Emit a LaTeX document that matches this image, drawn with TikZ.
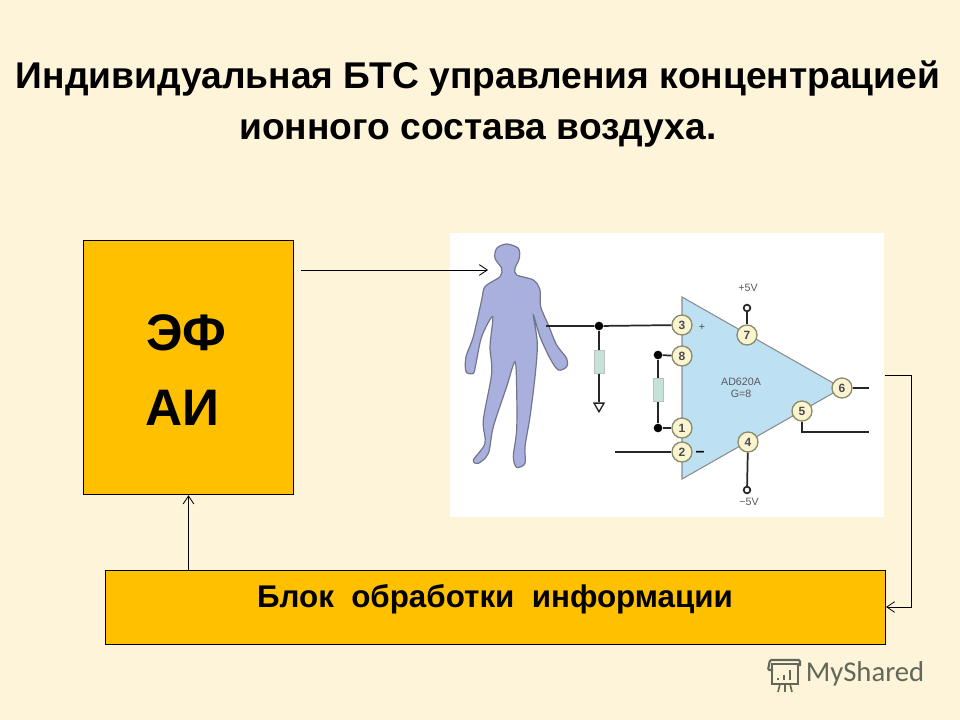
\documentclass[tikz,border=0pt]{standalone}
\usepackage{fontspec}
\setmainfont{Liberation Sans}
\newfontfamily\logofont{Carlito}
\usepackage{tikz}
\usetikzlibrary{arrows.meta,shapes.geometric,positioning,calc}
\definecolor{slidebg}{RGB}{254,244,218}
\definecolor{blockfill}{RGB}{255,192,0}
\definecolor{ampfill}{RGB}{190,224,243}
\definecolor{pinfill}{RGB}{250,245,208}
\definecolor{pinline}{RGB}{140,140,105}
\definecolor{bodyfill}{RGB}{170,176,222}
\definecolor{bodyline}{RGB}{112,118,140}
\definecolor{resfill}{RGB}{198,226,214}
\definecolor{logocolor}{RGB}{96,104,88}

\begin{document}
\begin{tikzpicture}[
    x=0.75pt, y=-0.75pt,
    title/.style={font=\bfseries\fontsize{27.9}{32}\selectfont, inner sep=0pt},
    block/.style={draw=black, line width=0.6pt, fill=blockfill},
    blocktext/.style={font=\bfseries\fontsize{38.5}{42}\selectfont, inner sep=0pt},
    link/.style={draw=black, line width=0.6pt, -{Straight Barb[length=6pt,width=8pt]}},
    wire/.style={draw=black!85, line width=1.3pt},
    ampin/.style={circle, draw=pinline, fill=pinfill, line width=1pt, minimum size=15pt, inner sep=0pt, font=\fontsize{9}{10}\selectfont\bfseries, text=black!70},
    junction/.style={circle, fill=black, minimum size=6.5pt, inner sep=0pt},
    terminal/.style={circle, draw=black!85, fill=white, line width=1.3pt, minimum size=5pt, inner sep=0pt},
    resistor/.style={rectangle, draw=black!25, fill=resfill, minimum width=7.5pt, minimum height=17pt, inner sep=0pt},
    small/.style={font=\fontsize{8}{9}\selectfont, text=black!65, inner sep=0pt, align=center}
]
\useasboundingbox (0,0) rectangle (960,720);
\fill[slidebg] (0,0) rectangle (960,720);

% Title
\node[title] (title1) at (478,79) {Индивидуальная БТС управления концентрацией};
\node[title] (title2) at (478,133) {ионного состава воздуха.};

% Left block and bottom block
\node[block, minimum width=158pt, minimum height=191pt, inner sep=0pt] (source) at (188.5,367.5) {};
\node[blocktext, anchor=base west] (ef) at (146,350) {ЭФ};
\node[blocktext, anchor=base west] (ai) at (145,425) {АИ};
\node[block, minimum width=585.5pt, minimum height=56pt, inner sep=0pt] (info) at (495.5,607.5) {};
\node[font=\bfseries\fontsize{23.5}{28}\selectfont, inner sep=0pt] (infotext) at (495,599) {Блок\ \ обработки\ \ информации};

% White panel with the circuit
\node[fill=white, minimum width=325.5pt, minimum height=213pt, inner sep=0pt] (panel) at (667,375) {};

% Human figure
\begin{scope}[shift={(450,230)}, x=0.25pt, y=-0.25pt]
\draw[draw=bodyline, fill=bodyfill, line width=0.9pt] plot[smooth cycle, tension=0.5] coordinates {
    (170,42) (205,55) (208,85) (195,115) (200,135) (250,150) (270,180) (272,230)
    (295,285) (320,345) (350,385) (350,410) (325,420) (300,385) (270,320) (250,255)
    (262,340) (255,440) (240,560) (225,650) (225,700) (200,712) (190,680) (200,600)
    (200,480) (195,395) (170,470) (130,590) (115,670) (85,700) (70,690) (105,640)
    (100,570) (125,430) (120,350) (128,260) (95,320) (78,400) (70,430) (48,425)
    (48,380) (70,320) (95,210) (105,170) (150,140) (155,115) (135,85) (140,55)};
\end{scope}

% Amplifier
\node[draw=none, inner sep=0pt] (amptext) at (741,388) {};
\coordinate (ampa) at (682,297);
\coordinate (ampb) at (842,388);
\coordinate (ampc) at (682,479);
\draw[draw=black!45, fill=ampfill, line width=0.8pt] (ampa) -- (ampb) -- (ampc) -- cycle;
\node[small, align=center] at (amptext) {AD620A\\G=8};

\node[ampin] (pin3) at (682,325) {3};
\node[ampin] (pin8) at (682,356) {8};
\node[ampin] (pin1) at (682,428) {1};
\node[ampin] (pin2) at (682,452) {2};
\node[ampin] (pin7) at (747,335) {7};
\node[ampin] (pin4) at (748,442) {4};
\node[ampin] (pin5) at (802,411) {5};
\node[ampin] (pin6) at (842,388) {6};

\node[font=\fontsize{8}{9}\selectfont, text=black!70, inner sep=0pt] (plus) at (702,327) {+};
\node[font=\bfseries\fontsize{12}{13}\selectfont, inner sep=0pt] (minus) at (700,454) {–};

% Circuit nodes
\coordinate (arm) at (546,326);
\node[junction] (j1) at (599,326) {};
\node[junction] (j2) at (658,355) {};
\node[junction] (j3) at (658,428) {};
\node[resistor] (r1) at (599,362) {};
\node[resistor] (r2) at (658,390) {};
\node[draw=black!85, fill=white, line width=1pt, isosceles triangle, isosceles triangle apex angle=60, shape border rotate=-90, minimum size=6.5pt, inner sep=0pt] (gnd) at (599,406) {};
\coordinate (in2) at (615,452);
\coordinate (out6) at (869,388);
\coordinate (out5) at (869,432);
\node[terminal] (vcc) at (747,308) {};
\node[terminal] (vee) at (747,490) {};
\node[small] (vcclabel) at (748,288) {+5V};
\node[small] (veelabel) at (749,502) {−5V};

% Wires
\draw[wire] (arm) -- (j1) -- (pin3);
\draw[wire] (j1) -- (r1);
\draw[wire] (r1) -- (gnd);
\draw[wire] (j2) -- (pin8);
\draw[wire] (j3) -- (pin1);
\draw[wire] (j2) -- (r2);
\draw[wire] (r2) -- (j3);
\draw[wire] (in2) -- (pin2);
\draw[wire] (vcc) -- (pin7);
\draw[wire] (pin4) -- (vee);
\draw[wire] (pin6) -- (out6);
\draw[wire] (pin5) |- (out5);

% Connections between the blocks
\coordinate (srcout) at (301,270);
\coordinate (figin) at (488,270);
\coordinate (ampout) at (885,375);
\coordinate (infoin) at (886,607);
\draw[link] (srcout) -- (figin);
\draw[link] (ampout) -- (911,375) -- (911,607) -- (infoin);
\draw[link] (info.north -| source) -- (source.south);

% Logo
\node[font=\logofont\fontsize{21.5}{24}\selectfont, text=logocolor, inner sep=0pt] (logotext) at (865,674) {MyShared};
\node[draw=logocolor, line width=1.3pt, minimum width=20pt, minimum height=15pt, inner sep=0pt] (logoboard) at (785,674) {};
\draw[logocolor, line width=1.6pt, rounded corners=1pt] (773,670) -- (768,670) -- (770,660) -- (800,660) -- (800,666);
\foreach \i/\h in {778/2,784/5,790/10} {
    \draw[logocolor, line width=1.8pt] (\i,680) -- ++(0,-\h);
}
\foreach \i/\j in {780/778,785/785,790/792} {
    \draw[logocolor, line width=1.2pt] (\i,684) -- (\j,692);
}

\end{tikzpicture}
\end{document}
